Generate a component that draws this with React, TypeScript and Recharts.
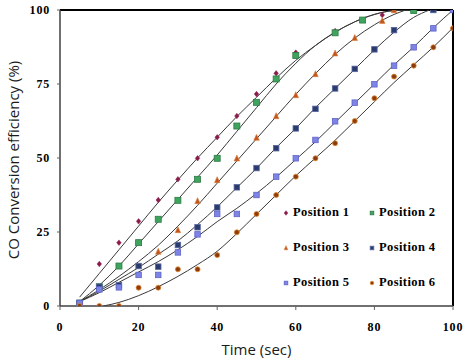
import React from "react";
import {
  ComposedChart,
  Line,
  Scatter,
  XAxis,
  YAxis,
  ReferenceLine,
  Legend,
} from "recharts";

// ---- measured points ----
const pos1Times = [5, 10, 15, 20, 25, 30, 35, 40, 45, 50, 55, 60, 70, 82];
const pos1Values = [1, 14.2, 21.4, 28.6, 35.8, 42.8, 49.9, 57, 64.2, 71.6, 78.6, 85.6, 92.9, 98.3];

const pos2Times = [5, 10, 15, 20, 25, 30, 35, 40, 45, 50, 55, 60, 70, 77, 90];
const pos2Values = [1, 6.5, 13.5, 21.4, 29.3, 35.7, 42.8, 49.9, 60.8, 68.8, 76.7, 84.6, 92.3, 96.6, 99.8];

const pos3Times = [5, 25, 30, 35, 40, 45, 50, 55, 60, 65, 70, 75, 82, 85];
const pos3Values = [1, 18.4, 25.7, 35.5, 42.6, 49.9, 56.9, 64.2, 71.3, 78.4, 85.4, 90.6, 96.4, 100];

const pos4Times = [5, 10, 15, 20, 25, 30, 35, 40, 45, 50, 55, 60, 65, 70, 75, 80, 85, 95];
const pos4Values = [1, 6.5, 7, 13.5, 13.3, 20.6, 26.6, 33.3, 40.1, 46.6, 53.3, 60, 66.6, 73.5, 80.1, 86.7, 93.2, 100];

const pos5Times = [5, 10, 15, 20, 25, 30, 35, 40, 45, 50, 55, 60, 65, 70, 75, 80, 85, 90, 95, 100];
const pos5Values = [1, 5.6, 6.3, 10.5, 10.5, 18.1, 24.2, 31.1, 31.1, 37.5, 43.7, 49.9, 56.1, 62.4, 68.7, 74.9, 81.2, 87.4, 93.8, 100];

const pos6Times = [5, 10, 15, 20, 25, 30, 35, 40, 45, 50, 55, 60, 65, 70, 75, 80, 85, 90, 95, 100];
const pos6Values = [0, 0, 0, 6.2, 6.2, 12.4, 12.4, 17.2, 24.9, 31.1, 37.5, 43.7, 49.9, 55, 62.5, 70.2, 77.5, 81.2, 87.4, 93.8];

// ---- trend curves ----
const trend1Times = [5, 10, 15, 20, 25, 30, 35, 40, 45, 50, 55, 60, 65, 70, 75, 80, 85, 90];
const trend1Values = [3, 11, 19, 27, 35, 42.6, 50, 57, 64, 70.5, 77, 83, 88, 92.5, 96, 98.5, 99.8, 100];

const trend2Times = [5, 10, 15, 20, 25, 30, 35, 40, 45, 50, 55, 60, 65, 70, 75, 80, 85, 90];
const trend2Values = [1.5, 7, 13.5, 21, 28.5, 36, 43.5, 51, 59, 67, 75, 82, 88, 92.5, 96, 98.5, 99.8, 100];

const trend3Times = [5, 10, 15, 20, 25, 30, 35, 40, 45, 50, 55, 60, 65, 70, 75, 80, 85, 88];
const trend3Values = [1.5, 5.5, 10, 15, 20.5, 27, 34, 41.5, 49, 56.5, 64, 71.5, 78.5, 85, 90.5, 95, 98.5, 100];

const trend4Times = [5, 10, 15, 20, 25, 30, 35, 40, 45, 50, 55, 60, 65, 70, 75, 80, 85, 90, 94];
const trend4Values = [1.5, 5, 9, 13, 17.5, 22, 27.5, 33.5, 40, 46.5, 53.5, 60, 67, 73.5, 80, 86.5, 92.5, 97.5, 100];

const trend5Times = [5, 10, 15, 20, 25, 30, 35, 40, 45, 50, 55, 60, 65, 70, 75, 80, 85, 90, 95, 100];
const trend5Values = [1.5, 4.5, 8, 11.5, 15, 19, 23.5, 28.5, 33, 38, 43.5, 49.5, 55.5, 62, 68.5, 75, 81.5, 87.5, 94, 100];

const trend6Times = [11, 15, 20, 25, 30, 35, 40, 45, 50, 55, 60, 65, 70, 75, 80, 85, 90, 95, 100];
const trend6Values = [0, 1.2, 3.5, 6.5, 10, 14, 18.5, 24.5, 31, 37.5, 44, 50, 56, 62.5, 69, 75.5, 81.5, 87.5, 94];

const seriesNames = ["Position 1", "Position 2", "Position 3", "Position 4", "Position 5", "Position 6"];
const xTicks = [0, 20, 40, 60, 80, 100];
const yTicks = [0, 25, 50, 75, 100];

const toPoints = (xs: number[], ys: number[]) => xs.map((x, i) => ({ x, y: ys[i] }));

type MarkerKind = "diamond" | "square" | "triangle" | "circle";
const styles: { kind: MarkerKind; fill: string; stroke: string; size: number }[] = [
  { kind: "diamond", fill: "#8B1A4B", stroke: "#8B1A4B", size: 4.5 },
  { kind: "square", fill: "#3FA55E", stroke: "#2D7A45", size: 6 },
  { kind: "triangle", fill: "#C2551C", stroke: "#D98040", size: 5.5 },
  { kind: "square", fill: "#2C3B6E", stroke: "#56669E", size: 5.5 },
  { kind: "square", fill: "#7E84E6", stroke: "#5F64C8", size: 5.5 },
  { kind: "circle", fill: "#8A3C10", stroke: "#E0862C", size: 5 },
];

function Marker({ cx, cy, kind, fill, stroke, size }: any) {
  const h = size / 2;
  if (kind === "diamond")
    return (
      <polygon
        points={`${cx},${cy - h - 0.5} ${cx + h},${cy} ${cx},${cy + h + 0.5} ${cx - h},${cy}`}
        fill={fill}
        stroke={stroke}
        strokeWidth={0.5}
      />
    );
  if (kind === "square")
    return <rect x={cx - h} y={cy - h} width={size} height={size} fill={fill} stroke={stroke} strokeWidth={0.8} />;
  if (kind === "triangle")
    return (
      <polygon
        points={`${cx},${cy - h - 0.5} ${cx + h},${cy + h} ${cx - h},${cy + h}`}
        fill={fill}
        stroke={stroke}
        strokeWidth={0.6}
      />
    );
  return <circle cx={cx} cy={cy} r={h} fill={fill} stroke={stroke} strokeWidth={0.8} />;
}

const pointSets = [
  toPoints(pos1Times, pos1Values),
  toPoints(pos2Times, pos2Values),
  toPoints(pos3Times, pos3Values),
  toPoints(pos4Times, pos4Values),
  toPoints(pos5Times, pos5Values),
  toPoints(pos6Times, pos6Values),
];

const trendSets = [
  toPoints(trend1Times, trend1Values),
  toPoints(trend2Times, trend2Values),
  toPoints(trend3Times, trend3Values),
  toPoints(trend4Times, trend4Values),
  toPoints(trend5Times, trend5Values),
  toPoints(trend6Times, trend6Values),
];

const tickFont = {
  fontFamily: "'Liberation Serif', 'Times New Roman', serif",
  fontWeight: 700,
  fontSize: 12,
  fill: "#000",
  letterSpacing: 0.8,
};

function LegendBox() {
  return (
    <div
      style={{
        display: "grid",
        gridTemplateColumns: "86px 86px",
        gridAutoRows: "35px",
        fontFamily: "'Liberation Serif', 'Times New Roman', serif",
        fontWeight: 700,
        fontSize: 12.5,
        letterSpacing: 0.4,
        color: "#000",
      }}
    >
      {seriesNames.map((name, i) => (
        <div key={name} style={{ display: "flex", alignItems: "center" }}>
          <svg width={8} height={8} style={{ marginRight: 3 }}>
            <Marker cx={4} cy={4} {...styles[i]} size={3.6} />
          </svg>
          <span>{name}</span>
        </div>
      ))}
    </div>
  );
}

export default function App() {
  return (
    <div style={{ position: "absolute", left: 0, top: 0, background: "#fff" }}>
      <ComposedChart width={474} height={363} margin={{ top: 10, right: 21, left: 0, bottom: 0 }}>
        <XAxis
          type="number"
          dataKey="x"
          domain={[0, 100]}
          ticks={xTicks}
          allowDataOverflow
          tickSize={4}
          tickMargin={12}
          height={57}
          axisLine={{ stroke: "#404040", strokeWidth: 1.5 }}
          tickLine={{ stroke: "#606060" }}
          tick={tickFont}
          label={{
            value: "Time (sec)",
            position: "insideBottom",
            offset: 8,
            style: { fontFamily: "'Open Sans', sans-serif", fontSize: 15, fill: "#1a1a1a" },
          }}
        />
        <YAxis
          type="number"
          dataKey="y"
          domain={[0, 100]}
          ticks={yTicks}
          allowDataOverflow
          tickSize={3}
          tickMargin={7}
          width={60}
          axisLine={{ stroke: "#404040", strokeWidth: 1.5 }}
          tickLine={{ stroke: "#606060" }}
          tick={tickFont}
          label={{
            value: "CO Conversion efficiency (%)",
            angle: -90,
            position: "insideLeft",
            offset: 0,
            content: (props: any) => {
              const vb = props.viewBox || {};
              const cx = 13;
              const cy = (vb.y ?? 10) + (vb.height ?? 296) / 2 + 2;
              return (
                <text
                  x={cx}
                  y={cy}
                  transform={`rotate(-90, ${cx}, ${cy})`}
                  textAnchor="middle"
                  dominantBaseline="central"
                  style={{ fontFamily: "'Open Sans', sans-serif", fontSize: 15, fill: "#1a1a1a" }}
                >
                  CO Conversion efficiency (%)
                </text>
              );
            },
          }}
        />
        <ReferenceLine y={100} stroke="#000" strokeWidth={2} ifOverflow="visible" />
        <ReferenceLine x={100} stroke="#000" strokeWidth={2} ifOverflow="visible" />
        {trendSets.map((d, i) => (
          <Line
            key={"t" + i}
            data={d}
            dataKey="y"
            type="monotone"
            dot={false}
            activeDot={false}
            stroke="#3a3a3a"
            strokeWidth={1}
            isAnimationActive={false}
            legendType="none"
          />
        ))}
        {pointSets.map((d, i) => (
          <Scatter
            key={"s" + i}
            name={seriesNames[i]}
            data={d}
            dataKey="y"
            isAnimationActive={false}
            shape={(p: any) => <Marker cx={p.cx} cy={p.cy} {...styles[i]} />}
          />
        ))}
        <Legend
          layout="horizontal"
          verticalAlign="middle"
          align="center"
          content={() => <LegendBox />}
          wrapperStyle={{ position: "absolute", left: 282, top: 195, width: 180, height: 105 }}
        />
      </ComposedChart>
    </div>
  );
}
